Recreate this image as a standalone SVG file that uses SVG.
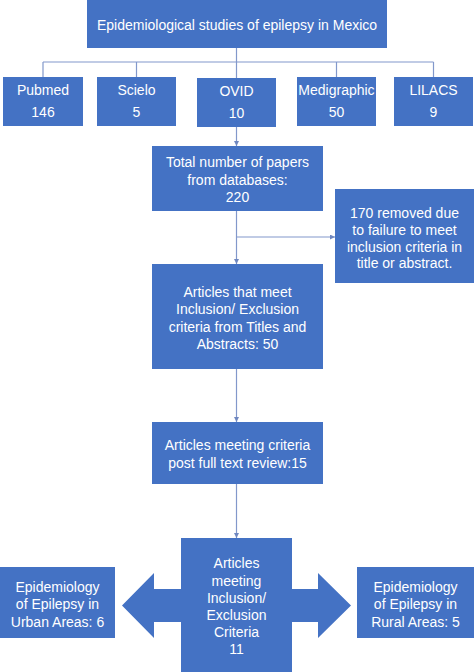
<svg xmlns="http://www.w3.org/2000/svg" width="474" height="672" viewBox="0 0 474 672">
<defs>
<style>
.box{fill:#4472C4;}
.t{font-family:"Liberation Sans",Arial,sans-serif;font-size:14px;fill:#ffffff;text-anchor:middle;}
.ln{stroke:#8298cb;stroke-width:1.2;fill:none;}
</style>
<marker id="ah" viewBox="0 0 10 10" refX="10" refY="5" markerWidth="5" markerHeight="5" orient="auto" markerUnits="userSpaceOnUse">
<path d="M0,0 L10,5 L0,10 z" fill="#6f87c0"/>
</marker>
</defs>
<rect width="474" height="672" fill="#ffffff"/>
<g id="connectors">
<path class="ln" d="M236.5,48 V62 M43,62 H433.5 M43,62 V77 M136.5,62 V77 M236.5,62 V78 M336.5,62 V77 M433.5,62 V77"/>
<path class="ln" d="M236.5,127 V146" marker-end="url(#ah)"/>
<path class="ln" d="M236.5,211 V264" marker-end="url(#ah)"/>
<path class="ln" d="M236.5,237 H335" marker-end="url(#ah)"/>
<path class="ln" d="M236.5,369 V422" marker-end="url(#ah)"/>
<path class="ln" d="M236.5,484 V538" marker-end="url(#ah)"/>
</g>
<g id="title"><rect class="box" x="87" y="0" width="300" height="48"/><text class="t" x="237" y="30">Epidemiological studies of epilepsy in Mexico</text></g>
<g id="pubmed"><rect class="box" x="3" y="77" width="80" height="49"/><text class="t" x="43" y="95">Pubmed</text><text class="t" x="43" y="117">146</text></g>
<g id="scielo"><rect class="box" x="97" y="77" width="79" height="49"/><text class="t" x="136.5" y="95">Scielo</text><text class="t" x="136.5" y="117">5</text></g>
<g id="ovid"><rect class="box" x="197" y="78" width="79" height="49"/><text class="t" x="236.5" y="96">OVID</text><text class="t" x="236.5" y="118">10</text></g>
<g id="medigraphic"><rect class="box" x="297" y="77" width="79" height="49"/><text class="t" x="336.5" y="95">Medigraphic</text><text class="t" x="336.5" y="117">50</text></g>
<g id="lilacs"><rect class="box" x="394" y="77" width="79" height="49"/><text class="t" x="433.5" y="95">LILACS</text><text class="t" x="433.5" y="117">9</text></g>
<g id="total"><rect class="box" x="152" y="146" width="171" height="65"/><text class="t" x="237.5" y="167">Total number of papers</text><text class="t" x="237.5" y="185">from databases:</text><text class="t" x="237.5" y="202">220</text></g>
<g id="removed"><rect class="box" x="335" y="189" width="139" height="94"/><text class="t" x="404.5" y="218">170 removed due</text><text class="t" x="404.5" y="235">to failure to meet</text><text class="t" x="404.5" y="252">inclusion criteria in</text><text class="t" x="404.5" y="268">title or abstract.</text></g>
<g id="screened"><rect class="box" x="152" y="264" width="171" height="105"/><text class="t" x="237.5" y="297">Articles that meet</text><text class="t" x="237.5" y="314">Inclusion/ Exclusion</text><text class="t" x="237.5" y="332">criteria from Titles and</text><text class="t" x="237.5" y="349">Abstracts: 50</text></g>
<g id="fulltext"><rect class="box" x="152" y="422" width="171" height="62"/><text class="t" x="237.5" y="450">Articles meeting criteria</text><text class="t" x="237.5" y="468">post full text review:15</text></g>
<g id="final"><rect class="box" x="181" y="538" width="111" height="134"/>
<polygon class="box" points="122,605.5 154,573 154,589 181,589 181,622 154,622 154,638"/>
<polygon class="box" points="351,605.5 318,573 318,589 292,589 292,622 318,622 318,638"/>
<text class="t" x="236.5" y="568">Articles</text><text class="t" x="236.5" y="586">meeting</text><text class="t" x="236.5" y="603">Inclusion/</text><text class="t" x="236.5" y="620">Exclusion</text><text class="t" x="236.5" y="637">Criteria</text><text class="t" x="236.5" y="654">11</text></g>
<g id="urban"><rect class="box" x="0" y="567" width="115" height="71"/><text class="t" x="57.5" y="592">Epidemiology</text><text class="t" x="57.5" y="609">of Epilepsy in</text><text class="t" x="57.5" y="627">Urban Areas: 6</text></g>
<g id="rural"><rect class="box" x="357" y="567" width="117" height="71"/><text class="t" x="415.5" y="592">Epidemiology</text><text class="t" x="415.5" y="609">of Epilepsy in</text><text class="t" x="415.5" y="627">Rural Areas: 5</text></g>
</svg>
